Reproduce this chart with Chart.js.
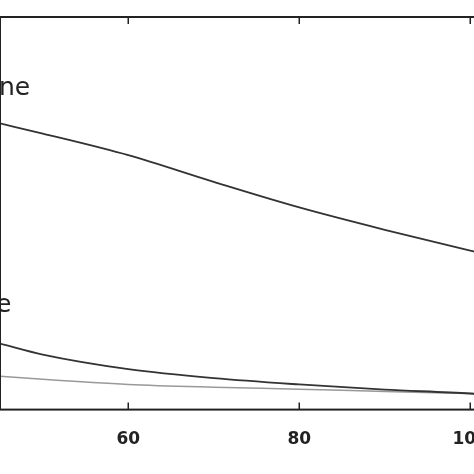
<!DOCTYPE html>
<html>
<head>
<meta charset="utf-8">
<script src="https://cdn.jsdelivr.net/npm/chart.js@4"></script>
<style>
  html, body { margin: 0; padding: 0; background: #fff; overflow: hidden; }
  #clip { width: 474px; height: 474px; overflow: hidden; }
  #wrap { width: 500px; height: 474px; }
</style>
</head>
<body>
<div id="clip"><div id="wrap"><canvas id="c"></canvas></div></div>
<script>
// x positions and curve values (y in arbitrary units)
const xs = [45, 50, 60, 70, 80, 90, 100, 103];
const upper = [0.729, 0.703, 0.648, 0.580, 0.515, 0.458, 0.405, 0.390];
const middle = [0.168, 0.140, 0.103, 0.080, 0.064, 0.051, 0.041, 0.036];
const lower = [0.085, 0.077, 0.064, 0.057, 0.052, 0.046, 0.041, 0.039];
const xTicks = [60, 80, 100];

const pts = arr => xs.map((x, i) => ({ x, y: arr[i] }));

const frame = {
    id: 'frame',
    afterDraw(chart) {
        const { ctx, chartArea: a, scales } = chart;
        ctx.save();
        ctx.strokeStyle = '#222';
        ctx.lineWidth = 2;
        ctx.strokeRect(a.left, a.top, a.right - a.left, a.bottom - a.top);
        ctx.lineWidth = 1.5;
        xTicks.forEach(t => {
            const px = scales.x.getPixelForValue(t);
            ctx.beginPath();
            ctx.moveTo(px, a.bottom); ctx.lineTo(px, a.bottom - 7);
            ctx.moveTo(px, a.top); ctx.lineTo(px, a.top + 7);
            ctx.stroke();
        });
        ctx.fillStyle = '#222';
        ctx.font = '25px "DejaVu Sans"';
        ctx.textBaseline = 'middle';
        ctx.fillText('ne', -1, 88);
        ctx.fillText('e', -4, 305);
        ctx.restore();
    }
};

new Chart(document.getElementById('c'), {
    type: 'line',
    data: {
        datasets: [
            { data: pts(upper), borderColor: '#333', borderWidth: 1.8 },
            { data: pts(middle), borderColor: '#333', borderWidth: 1.8 },
            { data: pts(lower), borderColor: '#999', borderWidth: 1.5 }
        ]
    },
    options: {
        animation: false,
        responsive: true,
        maintainAspectRatio: false,
        layout: { padding: { top: 17, left: 0, right: 0, bottom: 12 } },
        elements: { point: { radius: 0 }, line: { cubicInterpolationMode: 'monotone' } },
        plugins: { legend: { display: false }, tooltip: { enabled: false } },
        scales: {
            x: {
                type: 'linear', min: 45, max: 103,
                grid: { display: false }, border: { display: false },
                afterBuildTicks: s => { s.ticks = xTicks.map(v => ({ value: v })); },
                ticks: { color: '#222', font: { size: 17, weight: 'bold', family: 'DejaVu Sans' }, padding: 12, maxRotation: 0 }
            },
            y: { min: 0, max: 1, display: false }
        }
    },
    plugins: [frame]
});
</script>
</body>
</html>
